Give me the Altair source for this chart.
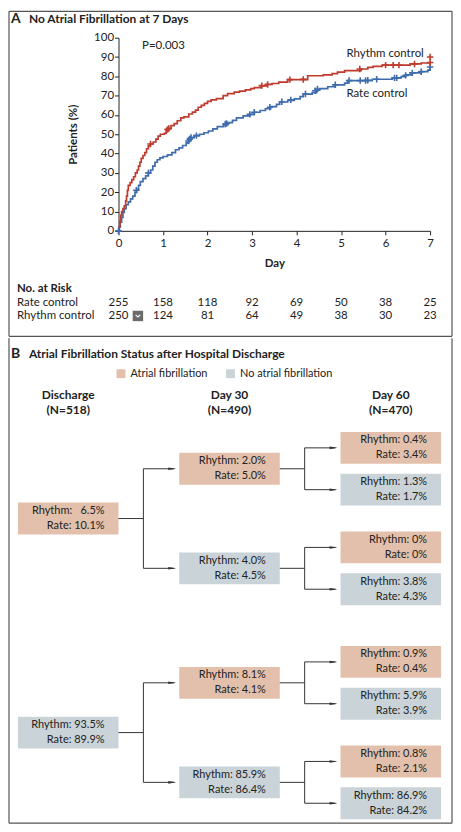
import altair as alt
import pandas as pd

FONT = "Lato"
INK = "#222222"
RED = "#BF3B2E"
BLUE = "#3F6CAD"
AF_FILL = "#E3C0AB"
NOAF_FILL = "#C9D3D8"
FRAME = "#555555"
LINK = "#333333"

# ---------------- Panel A data ----------------
rhythm_day = [0.00, 0.01, 0.03, 0.05, 0.07, 0.10, 0.13, 0.16, 0.18, 0.20, 0.22, 0.26, 0.30, 0.34,
              0.38, 0.42, 0.45, 0.48, 0.51, 0.55, 0.59, 0.63, 0.67, 0.71, 0.78, 0.84, 0.89, 0.94,
              1.03, 1.07, 1.12, 1.18, 1.25, 1.32, 1.40, 1.47, 1.58, 1.66, 1.73, 1.79, 1.86, 1.93,
              2.00, 2.08, 2.20, 2.35, 2.45, 2.60, 2.72, 2.85, 2.97, 3.05, 3.20, 3.32, 3.45, 3.60,
              3.80, 4.25, 4.60, 4.80, 4.92, 5.08, 5.45, 5.60, 5.72, 5.92, 6.55, 6.80, 7.00]
rhythm_pct = [0, 2, 5, 8, 10, 11.5, 13, 15.5, 18, 21, 23.5, 25, 26.5, 28,
              30, 31.5, 33.5, 35.5, 37.5, 39, 40.5, 42.5, 44, 45, 46, 47.5, 49, 50,
              50.5, 52, 53, 54.5, 55.5, 57, 58.5, 59, 60.5, 61.5, 62.5, 64, 65, 66,
              67, 67.8, 68.5, 70, 71, 71.8, 72.3, 73, 73.6, 74.2, 75, 75.8, 76.3, 77,
              78.3, 80.3, 80.8, 81.4, 82.2, 83, 83.8, 84.6, 85.2, 85.8, 86.4, 86.9, 87.2]

rate_day = [0.00, 0.02, 0.04, 0.07, 0.10, 0.13, 0.17, 0.22, 0.27, 0.32, 0.37, 0.41, 0.45, 0.49,
            0.55, 0.61, 0.67, 0.72, 0.77, 0.82, 0.87, 0.93, 1.00, 1.10, 1.20, 1.28, 1.36, 1.44,
            1.52, 1.58, 1.62, 1.70, 1.82, 1.92, 2.02, 2.12, 2.22, 2.36, 2.46, 2.56, 2.65, 2.80,
            2.95, 3.05, 3.18, 3.30, 3.42, 3.55, 3.62, 3.80, 3.95, 4.08, 4.15, 4.35, 4.45, 4.52,
            4.70, 4.85, 5.08, 5.15, 5.70, 6.15, 6.35, 6.45, 6.58, 6.78, 6.95, 7.00]
rate_pct = [0, 2, 4.5, 7, 9.5, 11.5, 13.5, 15, 16.5, 18, 20, 21.5, 23.5, 25.5,
            27, 28.5, 30, 31.5, 33.5, 35.5, 36.8, 37.8, 38.5, 39.3, 40.5, 42, 43, 44.2,
            45.5, 47, 48.3, 49.3, 50, 50.8, 51.7, 52.8, 54, 55, 56, 57.2, 58.5, 59.5,
            60.3, 61.4, 62.3, 63.2, 64.3, 65.5, 66.7, 67.5, 68.3, 69.5, 70.8, 71.6, 72.8, 73.6,
            74.6, 75.6, 76.5, 77.8, 78.5, 79.2, 79.8, 80.8, 81.8, 82.4, 83.2, 84.8]

rhythm_cens_day = [0.72, 1.10, 1.13, 3.22, 3.35, 3.85, 4.15, 5.42, 6.00, 6.17, 6.30, 6.65, 7.00, 7.00]
rhythm_cens_pct = [45, 52.5, 53, 75.2, 75.8, 78.3, 78.4, 83.8, 85.8, 85.8, 85.8, 86.4, 87.2, 90]
rate_cens_day = [0.00, 0.40, 0.67, 1.57, 1.60, 1.63, 1.75, 2.40, 2.43, 2.95, 3.05, 3.40, 3.67, 3.87,
                 4.20, 4.42, 4.47, 4.87, 5.18, 5.43, 5.55, 5.60, 5.80, 6.20, 6.25, 6.45, 6.60, 6.80, 7.00]
rate_cens_pct = [0, 21, 30, 46.5, 47.5, 48.3, 49.3, 55.3, 55.6, 60.3, 61.4, 64, 66.8, 67.8,
                 70.8, 72.5, 73.4, 75.6, 77.8, 77.8, 77.8, 78, 78.5, 79.2, 79.2, 80.5, 81.8, 82.4, 84.8]

risk_days = [0, 1, 2, 3, 4, 5, 6, 7]
risk_rate = [255, 158, 118, 92, 69, 50, 38, 25]
risk_rhythm = [250, 124, 81, 64, 49, 38, 30, 23]

curve_labels = ["Rhythm control", "Rate control", "P=0.003"]

# ---------------- Panel B data ----------------
stage_names = ["Discharge", "Day 30", "Day 60"]
stage_n = ["(N=518)", "(N=490)", "(N=470)"]
status_names = ["Atrial fibrillation", "No atrial fibrillation"]
discharge_status = [0, 1]
discharge_rhythm = [6.5, 93.5]
discharge_rate = [10.1, 89.9]
day30_status = [0, 1, 0, 1]
day30_rhythm = [2.0, 4.0, 8.1, 85.9]
day30_rate = [5.0, 4.5, 4.1, 86.4]
day60_status = [0, 1, 0, 1, 0, 1, 0, 1]
day60_rhythm = [0.4, 1.3, 0.0, 3.8, 0.9, 5.9, 0.8, 86.9]
day60_rate = [3.4, 1.7, 0.0, 4.3, 0.4, 3.9, 2.1, 84.2]

# ---------------- Panel A chart ----------------
xs = alt.Scale(domain=[0, 7], nice=False)
ys = alt.Scale(domain=[0, 100], nice=False)
common_axis = dict(tickSize=4, grid=False, domainColor=INK, tickColor=INK, labelColor=INK,
                   titleColor=INK, labelFont=FONT, titleFont=FONT, labelFontSize=11.5,
                   titleFontSize=11.5, titleFontWeight="bold", domainWidth=1, tickWidth=1)
xaxis = alt.Axis(values=risk_days, labelPadding=3, titlePadding=8, labelFlush=False, **common_axis)
yaxis = alt.Axis(values=list(range(0, 101, 10)), labelPadding=1, titlePadding=15,
                 labelFlush=False, **common_axis)

PLUS = "M-1,0L1,0M0,-1L0,1"


def X(field):
    return alt.X(field, scale=xs, axis=xaxis, title="Day")


def Y(field):
    return alt.Y(field, scale=ys, axis=yaxis, title="Patients (%)")


def curve(days, pcts, color):
    df = pd.DataFrame({"day": days, "pct": pcts})
    return alt.Chart(df).mark_line(interpolate="step-after", color=color, strokeWidth=1.7).encode(
        x=X("day:Q"), y=Y("pct:Q"))


def censor(days, pcts, color):
    df = pd.DataFrame({"day": days, "pct": pcts})
    return alt.Chart(df).mark_point(shape=PLUS, size=42, filled=False, strokeWidth=1.6,
                                    color=color, opacity=1).encode(x=X("day:Q"), y=Y("pct:Q"))


ann = pd.DataFrame({"day": [5.12, 5.12, 0.53], "pct": [91.3, 70.7, 95.5], "label": curve_labels})
ann_layer = alt.Chart(ann).mark_text(align="left", baseline="middle", font=FONT, fontSize=11.5,
                                     color=INK).encode(x=X("day:Q"), y=Y("pct:Q"), text="label:N")

one = pd.DataFrame({"k": [0]})


def static_text(txt, x, y, size=11.5, weight="normal", align="left"):
    return alt.Chart(pd.DataFrame({"t": [txt]})).mark_text(
        align=align, baseline="middle", font=FONT, fontSize=size, fontWeight=weight, color=INK
    ).encode(x=alt.value(x), y=alt.value(y), text="t:N")


def vrule(x, y1, y2, color=FRAME, w=1.2):
    return alt.Chart(one).mark_rule(color=color, strokeWidth=w).encode(
        x=alt.value(x), y=alt.value(y1), y2=alt.value(y2))


def hrule(x1, x2, y, color=FRAME, w=1.2):
    return alt.Chart(one).mark_rule(color=color, strokeWidth=w).encode(
        x=alt.value(x1), x2=alt.value(x2), y=alt.value(y))


titleA1 = static_text("A", -108, -18.5, size=14, weight="bold")
titleA2 = static_text("No Atrial Fibrillation at 7 Days", -90, -18.5, size=12, weight="bold")
risk_head = static_text("No. at Risk", -102, 252, weight="bold")
risk_lab1 = static_text("Rate control", -102, 266)
risk_lab2 = static_text("Rhythm control", -102, 280)


def risk_row(vals, y):
    df = pd.DataFrame({"day": risk_days, "n": [str(v) for v in vals]})
    return alt.Chart(df).mark_text(align="center", baseline="middle", font=FONT, fontSize=11.5,
                                   color=INK).encode(x=X("day:Q"), y=alt.value(y), text="n:N")


icon_box = alt.Chart(one).mark_point(shape="square", size=110, filled=True, color="#6b6b6b",
                                     opacity=1).encode(x=alt.value(19.5), y=alt.value(279.5))
icon_chev = alt.Chart(one).mark_point(shape="M-1,-0.45L0,0.45L1,-0.45", size=22, filled=False,
                                      color="white", strokeWidth=1.2, opacity=1).encode(
    x=alt.value(19.5), y=alt.value(279.5))

frameA = [vrule(-110, -26.5, 300), vrule(335, -26.5, 300), hrule(-110, 335, -26.5),
          hrule(-110, 335, 300)]

panelA = alt.layer(
    curve(rate_day, rate_pct, BLUE), curve(rhythm_day, rhythm_pct, RED),
    censor(rate_cens_day, rate_cens_pct, BLUE), censor(rhythm_cens_day, rhythm_cens_pct, RED),
    ann_layer, risk_row(risk_rate, 266), risk_row(risk_rhythm, 280),
    titleA1, titleA2, risk_head, risk_lab1, risk_lab2, icon_box, icon_chev, *frameA,
).properties(width=313, height=194)

# ---------------- Panel B layout ----------------
COL_CX = [67.5, 229.5, 391.5]
BOX_W, BOX_H = 101, 32
ROOT_Y = [516, 731]
D30_OFF, D60_OFF = 50, 21
TEXT_PAD, LINE_OFF = 14, 7.5
FORK, ARROW_GAP, ARROW_LEN = 25, 3, 8
HEAD_Y = [392, 407]
LEG_X, LEG_Y, LEG_LABEL_DX = [120.5, 230.5], 370.5, 9.5
B_TOP, B_BOT, B_LEFT, B_RIGHT = 335, 822, 8, 453

bx = alt.Scale(domain=[118, 431], nice=False, zero=False)
by = alt.Scale(domain=[B_TOP, B_BOT], nice=False, zero=False, reverse=True)
fill_scale = alt.Scale(domain=status_names, range=[AF_FILL, NOAF_FILL])


def BX(field):
    return alt.X(field, scale=bx, axis=None, title=None)


def BY(field):
    return alt.Y(field, scale=by, axis=None, title=None)


def fmt(v):
    return "0%" if v == 0 else f"{v:.1f}%"


stages = [
    (discharge_status, discharge_rhythm, discharge_rate),
    (day30_status, day30_rhythm, day30_rate),
    (day60_status, day60_rhythm, day60_rate),
]
centers = [list(ROOT_Y)]
centers.append([centers[0][j // 2] + (-D30_OFF if j % 2 == 0 else D30_OFF) for j in range(4)])
centers.append([centers[1][k // 2] + (-D60_OFF if k % 2 == 0 else D60_OFF) for k in range(8)])

box_rows, text_rows, hrows, vrows, arrow_rows = [], [], [], [], []
for c, (st, rh, ra) in enumerate(stages):
    cx = COL_CX[c]
    for i, s in enumerate(st):
        cy = centers[c][i]
        box_rows.append({"x1": cx - BOX_W / 2, "x2": cx + BOX_W / 2, "y1": cy - BOX_H / 2,
                         "y2": cy + BOX_H / 2, "status": status_names[s]})
        r1, r2 = fmt(rh[i]), fmt(ra[i])
        pad = "\u00a0\u00a0" * max(0, len(r2) - len(r1))
        tx = cx + BOX_W / 2 - TEXT_PAD
        text_rows.append({"x": tx, "y": cy - LINE_OFF, "t": "Rhythm: " + pad + r1})
        text_rows.append({"x": tx, "y": cy + LINE_OFF, "t": "Rate: " + r2})
        if c < 2:
            right = cx + BOX_W / 2
            fx = right + FORK
            kids = [centers[c + 1][2 * i], centers[c + 1][2 * i + 1]]
            tip = COL_CX[c + 1] - BOX_W / 2 - ARROW_GAP
            hrows.append({"x": right, "x2": fx, "y": cy})
            vrows.append({"x": fx, "y": kids[0], "y2": kids[1]})
            for ky in kids:
                hrows.append({"x": fx, "x2": tip - 2, "y": ky})
                arrow_rows.append({"x": tip - ARROW_LEN / 2, "y": ky})

boxes = pd.DataFrame(box_rows)
texts = pd.DataFrame(text_rows)
hlinks = pd.DataFrame(hrows)
vlinks = pd.DataFrame(vrows)
arrows = pd.DataFrame(arrow_rows)
legend_df = pd.DataFrame({"x": LEG_X, "y": [LEG_Y, LEG_Y], "status": status_names,
                          "lx": [v + LEG_LABEL_DX for v in LEG_X]})

box_layer = alt.Chart(boxes).mark_rect().encode(
    x=BX("x1:Q"), x2="x2:Q", y=BY("y1:Q"), y2="y2:Q",
    color=alt.Color("status:N", scale=fill_scale, legend=None),
)
leg_sym = alt.Chart(legend_df).mark_point(shape="square", size=80, filled=True, opacity=1).encode(
    x=BX("x:Q"), y=BY("y:Q"), color=alt.Color("status:N", scale=fill_scale, legend=None))
leg_txt = alt.Chart(legend_df).mark_text(align="left", baseline="middle", font=FONT, fontSize=11,
                                         color=INK).encode(x=BX("lx:Q"), y=BY("y:Q"), text="status:N")
text_layer = alt.Chart(texts).mark_text(align="right", baseline="middle", font=FONT, fontSize=11,
                                        color=INK).encode(x=BX("x:Q"), y=BY("y:Q"), text="t:N")
hlink_layer = alt.Chart(hlinks).mark_rule(color=LINK, strokeWidth=1).encode(
    x=BX("x:Q"), x2="x2:Q", y=BY("y:Q"))
vlink_layer = alt.Chart(vlinks).mark_rule(color=LINK, strokeWidth=1).encode(
    x=BX("x:Q"), y=BY("y:Q"), y2="y2:Q")
arrow_layer = alt.Chart(arrows).mark_point(shape="M-1,-0.32L1,0L-1,0.32Z", size=64, filled=True,
                                           color=LINK, opacity=1).encode(x=BX("x:Q"), y=BY("y:Q"))

heads = pd.DataFrame({
    "x": COL_CX + COL_CX,
    "y": [HEAD_Y[0]] * 3 + [HEAD_Y[1]] * 3,
    "t": stage_names + stage_n,
})
head_layer = alt.Chart(heads).mark_text(align="center", baseline="middle", font=FONT, fontSize=12,
                                        fontWeight="bold", color=INK).encode(
    x=BX("x:Q"), y=BY("y:Q"), text="t:N")

titleB1 = alt.Chart(pd.DataFrame({"x": [10], "y": [351], "t": ["B"]})).mark_text(
    align="left", baseline="middle", font=FONT, fontSize=14, fontWeight="bold", color=INK).encode(
    x=BX("x:Q"), y=BY("y:Q"), text="t:N")
titleB2 = alt.Chart(pd.DataFrame({"x": [28], "y": [351],
                                  "t": ["Atrial Fibrillation Status after Hospital Discharge"]})).mark_text(
    align="left", baseline="middle", font=FONT, fontSize=12, fontWeight="bold", color=INK).encode(
    x=BX("x:Q"), y=BY("y:Q"), text="t:N")

frame_v = pd.DataFrame({"x": [B_LEFT, B_RIGHT], "y": [B_TOP, B_TOP], "y2": [B_BOT, B_BOT]})
frame_h = pd.DataFrame({"x": [B_LEFT], "x2": [B_RIGHT], "y": [B_BOT]})
frameB_v = alt.Chart(frame_v).mark_rule(color=FRAME, strokeWidth=1.2).encode(
    x=BX("x:Q"), y=BY("y:Q"), y2="y2:Q")
frameB_h = alt.Chart(frame_h).mark_rule(color=FRAME, strokeWidth=1.2).encode(
    x=BX("x:Q"), x2="x2:Q", y=BY("y:Q"))

panelB = alt.layer(
    box_layer, hlink_layer, vlink_layer, arrow_layer, text_layer, head_layer, titleB1, titleB2,
    leg_sym, leg_txt, frameB_v, frameB_h
).properties(width=313, height=B_BOT - B_TOP)

chart = alt.vconcat(panelA, panelB, spacing=0).properties(padding=0).configure_view(strokeWidth=0)

chart.save("out.html", embed_options={"renderer": "svg", "actions": False})
